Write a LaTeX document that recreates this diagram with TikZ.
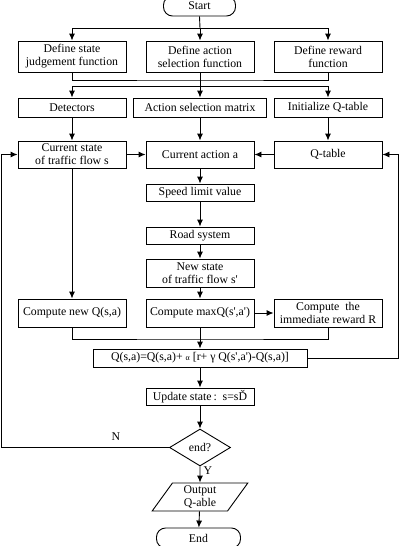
\documentclass[tikz,border=0pt]{standalone}
\usepackage{fontspec}
\setmainfont{Liberation Serif}[Ligatures=TeXOff]
\usetikzlibrary{shapes.geometric,arrows.meta}
\begin{document}
\begin{tikzpicture}[x=1pt,y=-1pt,
  every node/.style={font=\fontsize{11.8}{13}\selectfont},
  box/.style={draw,line width=0.9pt,minimum width=108pt,inner sep=0pt,align=center},
  arr/.style={-{Latex[length=7pt,width=6pt]}},
  ln/.style={line width=0.9pt}]
\useasboundingbox (0,0) rectangle (400,546);
\fill[white] (0,0) rectangle (400,546);
\begin{scope}[ln]
% terminals
\node[box,rounded corners=9pt,minimum width=72pt,minimum height=20pt] (start) at (199.5,6) {\raisebox{-3pt}{Start}};
\node[box,rounded corners=9pt,minimum width=84pt,minimum height=20pt] (end) at (198.5,538) {End};
% row 1
\node[box,minimum height=31pt] (d1) at (72,56.5) {Define state\\judgement function};
\node[box,minimum height=31pt] (d2) at (200,56.5) {Define action\\selection function};
\node[box,minimum height=31pt] (d3) at (328,56.5) {Define reward\\function};
% row 2
\node[box,minimum height=19pt] (det) at (72,107.5) {Detectors};
\node[box,minimum width=133pt,minimum height=19pt] (asm) at (200,107.5) {Action selection matrix};
\node[box,minimum height=19pt] (init) at (328,107.5) {Initialize Q-table};
% row 3
\node[box,minimum height=27pt] (cs) at (72,154.5) {Current state\\of traffic flow s};
\node[box,minimum height=27pt] (ca) at (200,154.5) {Current action a};
\node[box,minimum height=27pt] (qt) at (328,154.5) {Q-table};
% middle chain
\node[box,minimum height=17pt] (spd) at (200,192.5) {Speed limit value};
\node[box,minimum height=17pt] (road) at (200,235.5) {Road system};
\node[box,minimum height=28pt] (ns) at (200,273) {New state\\of traffic flow s'};
% compute row
\node[box,minimum height=28pt] (cn) at (72,313) {Compute new Q(s,a)};
\node[box,minimum height=28pt] (cm) at (200,313) {Compute maxQ(s',a')};
\node[box,minimum height=28pt] (cr) at (328,313) {Compute\ \ the\\immediate reward R};
% equation
\node[box,minimum width=214pt,minimum height=18pt] (eq) at (200,358) {Q(s,a)=Q(s,a)+ {\fontsize{8}{9}\selectfont α} [r+ γ Q(s',a')-Q(s,a)]};
\node[box,minimum height=17pt] (upd) at (200,396.5) {Update state\,:\enspace s=sĎ};
\node[draw,diamond,aspect=1.65,minimum width=61pt,minimum height=37pt,inner sep=0pt] (dec) at (200,447.5) {end?};
\node[draw,trapezium,trapezium left angle=62,trapezium right angle=118,trapezium stretches=true,minimum width=96pt,minimum height=28pt,inner sep=0pt,align=center] (out) at (200,497) {Output\\Q-able};
% coordinates
\coordinate (b1) at (200,28);
\coordinate (b2) at (200,86);
\coordinate (m1) at (200,80);
\coordinate (c1) at (200,339);
\coordinate (lN) at (1.5,447.5);
\coordinate (rR) at (398.5,358);
% connectors
\draw (start.south) -- (b1);
\draw[arr] (b1) -| (d1.north);
\draw[arr] (b1) -- (d2.north);
\draw[arr] (b1) -| (d3.north);
\draw (d1.south) |- (m1) -| (d3.south);
\draw[arr] (d2.south) -- (asm.north);
\draw[arr] (b2) -| (det.north);
\draw[arr] (b2) -| (init.north);
\draw[arr] (det) -- (cs);
\draw[arr] (asm) -- (ca);
\draw[arr] (init) -- (qt);
\draw[arr] (cs) -- (ca);
\draw[arr] (qt) -- (ca);
\draw[arr] (ca) -- (spd);
\draw[arr] (spd) -- (road);
\draw[arr] (road) -- (ns);
\draw[arr] (ns) -- (cm);
\draw[arr] (cs) -- (cn);
\draw[arr] (cm) -- (cr);
\draw (cn.south) |- (c1) -| (cr.south);
\draw[arr] (cm) -- (eq);
\draw[arr] (eq) -- (upd);
\draw[arr] (upd) -- (dec);
\draw[arr] (dec) -- (out);
\draw[arr] (out) -- (end);
\draw[arr] (dec.west) -- (lN) |- (cs.west);
\draw[arr] (eq.east) -- (rR) |- (qt.east);
\end{scope}
\node (Nl) at (116,437) {N};
\node (Yl) at (208,471) {Y};
\end{tikzpicture}
\end{document}
